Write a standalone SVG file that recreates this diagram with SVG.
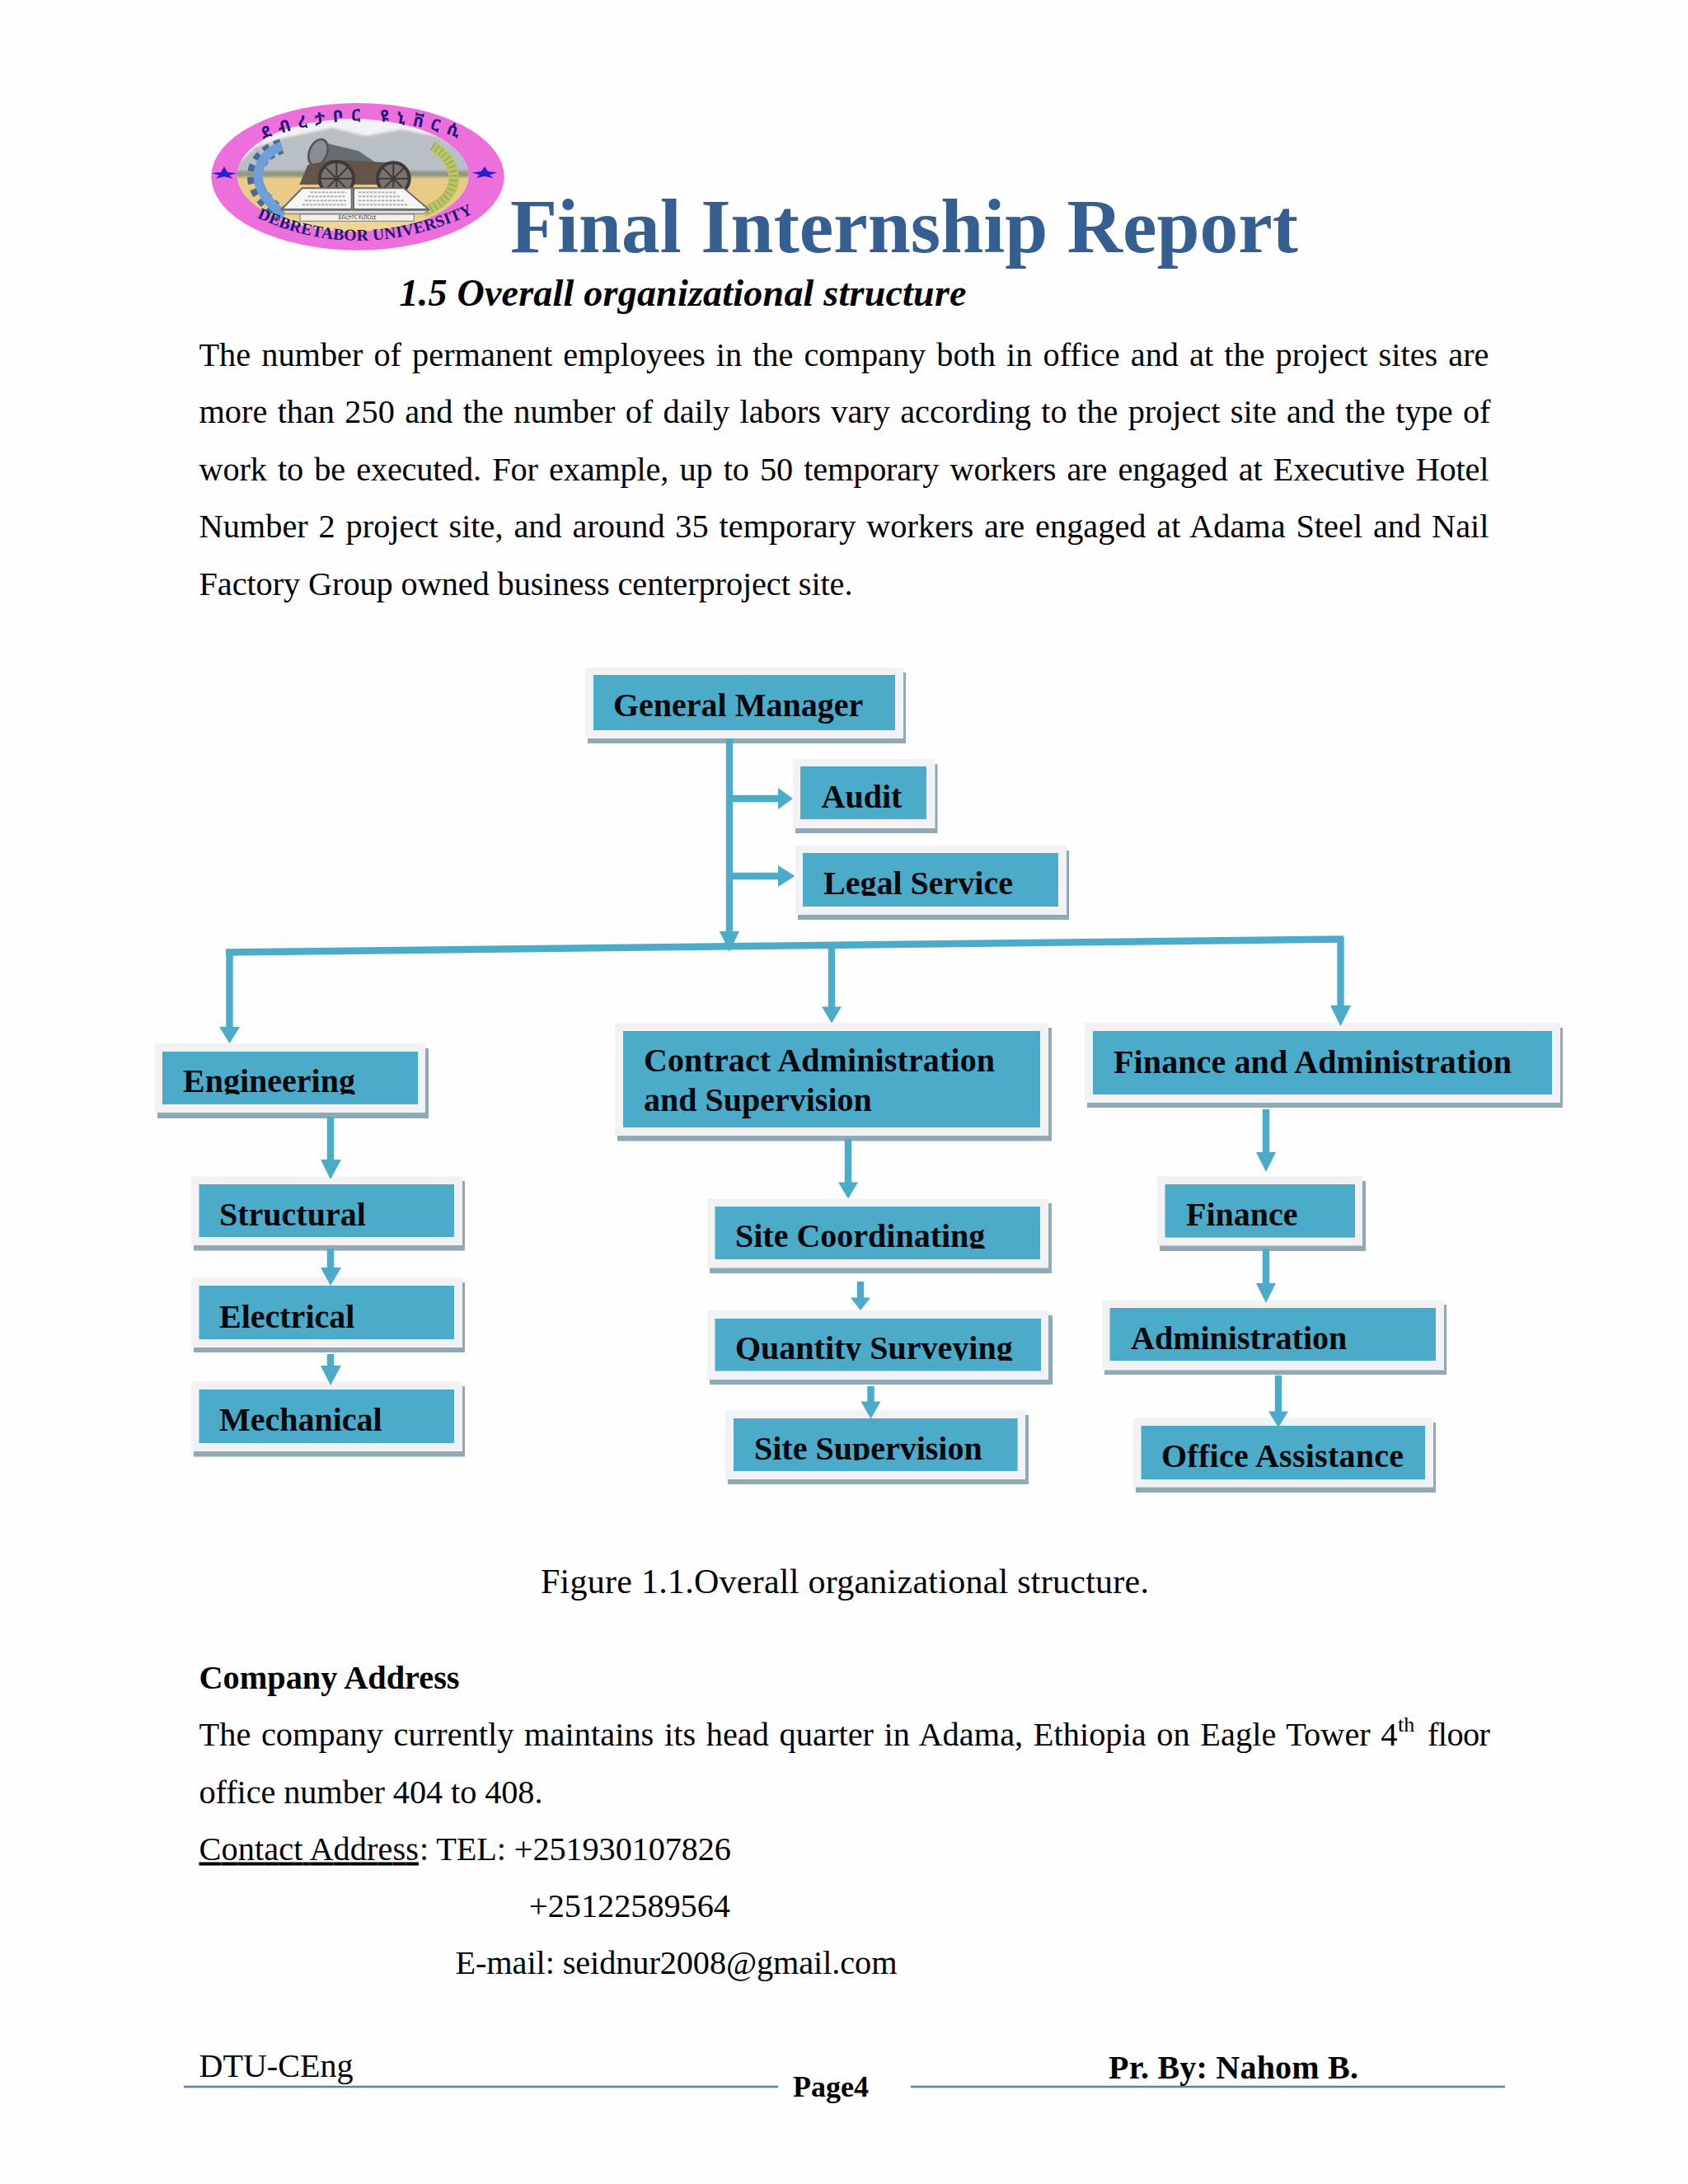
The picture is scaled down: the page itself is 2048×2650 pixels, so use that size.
<svg xmlns="http://www.w3.org/2000/svg" width="2048" height="2650" viewBox="0 0 2048 2650">
<style>
text{font-family:"Liberation Serif","Times New Roman",serif;fill:#000}
.title{font-size:93.5px;font-weight:700;fill:#365f91}
.sec{font-size:46px;font-weight:700;font-style:italic}
.body{font-size:40.3px}
.bold{font-weight:700}
.n{font-size:40px;font-weight:700;fill:#03080c}
.o{fill:#f2f2f5}.s{fill:#8fa9b5}.i{fill:#4babc9}
.c{fill:none;stroke:#4babc9;stroke-width:8.4}
.h{fill:#4babc9}
.rule{stroke:#5b80ae;stroke-width:2.4}
</style>
<defs>
<filter id="soft" x="-5%" y="-5%" width="110%" height="110%"><feGaussianBlur stdDeviation="4"/></filter>
<clipPath id="photo"><ellipse cx="595" cy="338" rx="422" ry="205"/></clipPath>
<clipPath id="cLegal"><rect x="974" y="1035" width="310" height="52"/></clipPath>
<clipPath id="cEng"><rect x="197" y="1276" width="310" height="52"/></clipPath>
<clipPath id="cSite"><rect x="867" y="1464" width="395" height="51"/></clipPath>
<clipPath id="cQty"><rect x="867" y="1600" width="396" height="51"/></clipPath>
<clipPath id="cSup"><rect x="890" y="1721" width="345" height="51"/></clipPath>
<path id="arcBottom" d="M245,492 Q620,664 1022,482"/>
<path id="arcTop" d="M268,208 Q620,72 998,208"/>
</defs>
<rect width="2048" height="2650" fill="#fefefe"/>

<g id="logo" transform="translate(230 100) scale(.3333)">
<ellipse cx="612" cy="343" rx="533" ry="268" fill="#ec6fdc"/>
<g clip-path="url(#photo)">
<g filter="url(#soft)">
<rect x="160" y="120" width="870" height="440" fill="#f1f2f3"/>
<path d="M170,300 L240,235 L350,200 L520,165 L640,195 L770,172 L900,195 L1020,265 L1020,330 L170,330Z" fill="#b9c0c5"/>
<rect x="170" y="322" width="850" height="26" fill="#8f9680"/>
<rect x="170" y="345" width="850" height="205" fill="#e9cb88"/>
<rect x="170" y="490" width="850" height="60" fill="#f2d594"/>
</g>
</g>
<path d="M335,232 C225,265 185,385 340,482" fill="none" stroke="#4a6a96" stroke-width="56" stroke-dasharray="22 18"/>
<path d="M335,232 C235,270 205,385 345,482" fill="none" stroke="#6f9fd8" stroke-width="34"/>
<path d="M885,232 C995,300 990,420 850,472" fill="none" stroke="#bcc566" stroke-width="38"/>
<path d="M885,232 C995,300 990,420 850,472" fill="none" stroke="#8d9b45" stroke-width="30" stroke-dasharray="3 14"/>
<g>
<path d="M440,290 L475,215 L615,250 L690,300 L640,320 Z" fill="#666c70"/>
<ellipse cx="468" cy="255" rx="32" ry="50" transform="rotate(22 468 255)" fill="#878d92" stroke="#505559" stroke-width="8"/>
<path d="M430,300 L520,282 L730,292 L785,325 L790,372 L400,372 Z" fill="#64534a"/>
<circle cx="535" cy="350" r="62" fill="#7a756c" stroke="#40383a" stroke-width="12"/>
<circle cx="742" cy="350" r="58" fill="#7a756c" stroke="#40383a" stroke-width="12"/>
<path d="M535,290V410M475,350H595M492,307L578,393M578,307L492,393M742,294V406M686,350H798M702,310L782,390M782,310L702,390" stroke="#40383a" stroke-width="6" fill="none"/>
</g>
<path d="M410,385H590V462H335Z" fill="#f6f6f4" stroke="#6a6a6a" stroke-width="6"/>
<path d="M597,385H780L870,462H597Z" fill="#f6f6f4" stroke="#6a6a6a" stroke-width="6"/>
<path d="M440,400H570M430,415H570M420,430H570M410,445H570M615,400H750M615,415H765M615,430H780M615,445H795" stroke="#a8a8a8" stroke-width="5" stroke-dasharray="10 4" fill="none"/>
<path d="M335,466H870L850,478H350Z" fill="#ddd" stroke="#777" stroke-width="3"/>
<rect x="402" y="480" width="415" height="25" fill="#f4f1e6" stroke="#777" stroke-width="3"/>
<text x="610" y="499" text-anchor="middle" font-size="19" style="font-family:'Noto Sans Ethiopic','DejaVu Sans',sans-serif;fill:#333">ደብረታቦር ዩኒቨርሲቲ</text>
<polygon points="126,306 138,327 172,330 145,338 158,350 126,343 95,350 107,338 80,330 114,327" fill="#2a1fd0"/>
<polygon points="1074,306 1086,324 1120,328 1093,337 1106,349 1074,341 1043,349 1055,337 1028,328 1062,324" fill="#2a1fd0"/>
<text font-size="59" font-weight="700" style="fill:#1d1478"><textPath href="#arcBottom" textLength="815">DEBRETABOR UNIVERSITY</textPath></text>
<text font-size="60" font-weight="700" style="font-family:'Noto Sans Ethiopic','DejaVu Sans',sans-serif;fill:#1d1478"><textPath href="#arcTop" textLength="780">ደብረታቦር ዩኒቨርሲቲ</textPath></text>
</g>

<text id="report-title" class="title" x="619" y="306" textLength="956">Final Internship Report</text>
<text id="section-heading" class="sec" x="484.500" y="370.500" textLength="688">1.5 Overall organizational structure</text>
<g id="intro">
<text class="body" x="241.5" y="444" word-spacing="3" textLength="1565">The number of permanent employees in the company both in office and at the project sites are</text>
<text class="body" x="241.5" y="513" word-spacing="2.3" textLength="1567">more than 250 and the number of daily labors vary according to the project site and the type of</text>
<text class="body" x="241.5" y="582.500" word-spacing="3.4" textLength="1565">work to be executed. For example, up to 50 temporary workers are engaged at Executive Hotel</text>
<text class="body" x="241.5" y="652" word-spacing="2.7" textLength="1565">Number 2 project site, and around 35 temporary workers are engaged at Adama Steel and Nail</text>
<text class="body" x="241.5" y="721.500" textLength="793">Factory Group owned business centerproject site.</text>
</g>

<g id="general-manager"><rect class="s" x="713" y="816" width="386" height="86"/><rect class="o" x="710" y="810" width="386" height="86"/><rect class="i" x="720" y="819" width="366" height="67"/><text class="n" x="744" y="869">General Manager</text></g>
<g id="audit"><rect class="s" x="965" y="927" width="172.500" height="84"/><rect class="o" x="962" y="921" width="172.500" height="84"/><rect class="i" x="971" y="930" width="153" height="64"/><text class="n" x="996.500" y="980">Audit</text></g>
<g id="legal-service"><rect class="s" x="968" y="1032" width="329" height="84"/><rect class="o" x="965" y="1026" width="329" height="84"/><rect class="i" x="974" y="1035" width="310" height="65"/><text class="n" x="999" y="1085" clip-path="url(#cLegal)">Legal Service</text></g>

<g id="engineering"><rect class="s" x="191" y="1272" width="329" height="85"/><rect class="o" x="188" y="1266" width="328" height="84"/><rect class="i" x="197" y="1276" width="310" height="64"/><text class="n" x="222" y="1325" clip-path="url(#cEng)">Engineering</text></g>
<g id="structural"><rect class="s" x="235" y="1433" width="329" height="84.500"/><rect class="o" x="232" y="1427.500" width="329" height="83.500"/><rect class="i" x="241.500" y="1437" width="309.500" height="64"/><text class="n" x="266" y="1487">Structural</text></g>
<g id="electrical"><rect class="s" x="235" y="1556" width="329" height="85"/><rect class="o" x="232" y="1550" width="329" height="85"/><rect class="i" x="241.500" y="1560" width="309.500" height="65"/><text class="n" x="266" y="1611">Electrical</text></g>
<g id="mechanical"><rect class="s" x="235" y="1682" width="329" height="85.500"/><rect class="o" x="232" y="1676" width="329" height="85"/><rect class="i" x="241.500" y="1686" width="309.500" height="65"/><text class="n" x="266" y="1736">Mechanical</text></g>

<g id="contract-administration"><rect class="s" x="749" y="1247" width="527" height="137.500"/><rect class="o" x="746" y="1241.500" width="526" height="136.500"/><rect class="i" x="756" y="1251" width="506" height="117"/><text class="n" x="781" y="1300" textLength="426">Contract Administration</text><text class="n" x="781" y="1347.500">and Supervision</text></g>
<g id="site-coordinating"><rect class="s" x="861" y="1460" width="415" height="85"/><rect class="o" x="858" y="1454.500" width="414" height="84"/><rect class="i" x="867.500" y="1464" width="394.500" height="64"/><text class="n" x="892" y="1513" clip-path="url(#cSite)">Site Coordinating</text></g>
<g id="quantity-surveying"><rect class="s" x="861" y="1596" width="416" height="84"/><rect class="o" x="858" y="1590" width="414" height="84"/><rect class="i" x="867.500" y="1600" width="395.500" height="63.500"/><text class="n" x="892" y="1648.500" clip-path="url(#cQty)">Quantity Surveying</text></g>
<g id="site-supervision"><rect class="s" x="883" y="1717" width="365" height="84"/><rect class="o" x="880" y="1711" width="364" height="84"/><rect class="i" x="890" y="1721" width="344.600" height="64"/><text class="n" x="915" y="1770.500" clip-path="url(#cSup)">Site Supervision</text></g>

<g id="finance-and-administration"><rect class="s" x="1319" y="1247" width="577" height="97"/><rect class="o" x="1316" y="1241" width="577" height="97"/><rect class="i" x="1326" y="1251" width="557" height="77"/><text class="n" x="1351" y="1302" textLength="483">Finance and Administration</text></g>
<g id="finance"><rect class="s" x="1407" y="1433" width="250" height="85"/><rect class="o" x="1404" y="1427" width="249" height="84.500"/><rect class="i" x="1413.500" y="1437" width="230.500" height="64.600"/><text class="n" x="1439" y="1487">Finance</text></g>
<g id="administration"><rect class="s" x="1340" y="1583" width="415" height="85"/><rect class="o" x="1337" y="1577.600" width="415" height="84.900"/><rect class="i" x="1346.500" y="1587" width="395.500" height="64"/><text class="n" x="1372" y="1636.500">Administration</text></g>
<g id="office-assistance"><rect class="s" x="1378" y="1726" width="364" height="85"/><rect class="o" x="1375" y="1720.600" width="364" height="84"/><rect class="i" x="1384.500" y="1730" width="344.500" height="65"/><text class="n" x="1409" y="1780" textLength="294">Office Assistance</text></g>

<g id="connectors">
<path class="c" d="M885,896V1132"/><polygon class="h" points="873,1130 897,1130 885,1155"/>
<path class="c" d="M889,969H946"/><polygon class="h" points="944,956 962,969 944,982"/>
<path class="c" d="M889,1063H946"/><polygon class="h" points="944,1050 964.500,1063 944,1076"/>
<path class="c" d="M274,1155.500L1630,1139.500"/>
<path class="c" d="M278.500,1153V1248"/><polygon class="h" points="266,1246 291,1246 278.500,1266"/>
<path class="c" d="M1009,1148V1223"/><polygon class="h" points="997,1221.500 1021,1221.500 1009,1241.600"/>
<path class="c" d="M1626.500,1137V1222"/><polygon class="h" points="1614,1220 1639,1220 1626.500,1245"/>
<path class="c" d="M401,1355V1409"/><polygon class="h" points="389,1407 414,1407 401,1431"/>
<path class="c" d="M401,1515V1540"/><polygon class="h" points="389,1538 414,1538 401,1560"/>
<path class="c" d="M401,1643V1659"/><polygon class="h" points="389,1657 414,1657 401,1681"/>
<path class="c" d="M1029,1382V1436"/><polygon class="h" points="1017,1434.500 1041,1434.500 1029,1454.500"/>
<path class="c" d="M1044,1555V1576"/><polygon class="h" points="1032,1574.600 1056,1574.600 1044,1590"/>
<path class="c" d="M1056.500,1682V1702"/><polygon class="h" points="1044.500,1700.500 1068.500,1700.500 1056.500,1721.500"/>
<path class="c" d="M1536,1346V1400"/><polygon class="h" points="1524,1398 1548,1398 1536,1422"/>
<path class="c" d="M1536,1515V1559"/><polygon class="h" points="1524,1557 1548,1557 1536,1581"/>
<path class="c" d="M1551,1669V1714"/><polygon class="h" points="1539,1712.500 1563,1712.500 1551,1732"/>
</g>

<text id="figure-caption" x="656" y="1933" font-size="42" textLength="738">Figure 1.1.Overall organizational structure.</text>
<g id="address">
<text class="body bold" x="241.500" y="2049" textLength="316">Company Address</text>
<text class="body" x="241.500" y="2118" word-spacing="2.4" textLength="1454">The company currently maintains its head quarter in Adama, Ethiopia on Eagle Tower 4</text>
<text x="1696" y="2101" font-size="26">th</text>
<text class="body" x="1732" y="2118" textLength="76">floor</text>
<text class="body" x="241.500" y="2187.500" textLength="417">office number 404 to 408.</text>
<text class="body" x="241.500" y="2256.500" text-decoration="underline" textLength="266.500">Contact Address</text>
<text class="body" x="509" y="2256.500" textLength="378">: TEL: +251930107826</text>
<text class="body" x="642" y="2325.500" textLength="244">+25122589564</text>
<text class="body" x="552.500" y="2395" textLength="536">E-mail: seidnur2008@gmail.com</text>
</g>
<g id="footer">
<path class="rule" d="M223,2532H944M1105,2532H1826"/>
<text x="241.500" y="2520" font-size="40" textLength="187">DTU-CEng</text>
<text x="962" y="2544" font-size="36" font-weight="700" textLength="92">Page4</text>
<text x="1345" y="2521.700" font-size="40" font-weight="700" textLength="303">Pr. By: Nahom B.</text>
</g>
</svg>
